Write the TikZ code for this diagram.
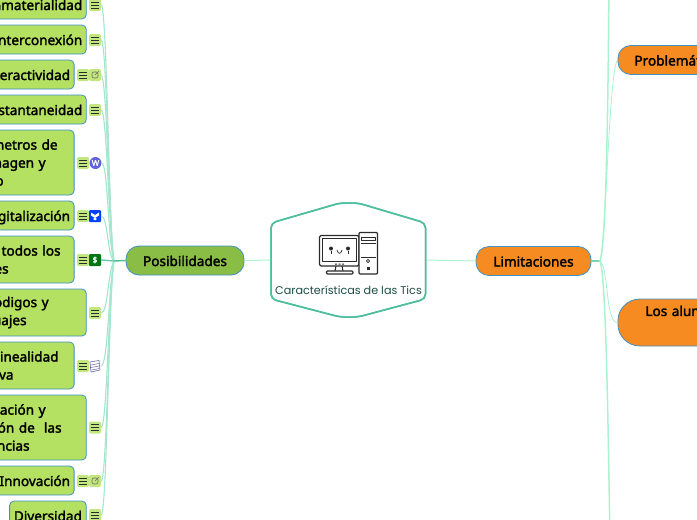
\documentclass[tikz,border=0pt]{standalone}
\usepackage{fontspec}
\setmainfont{Noto Sans}[AutoFakeBold=2]
\newfontfamily\titlefont{Poppins}
\newcommand\gapline[2]{\leavevmode\hbox{#2\kern#1pt}}
\definecolor{leafgreen}{HTML}{B4E161}
\definecolor{midgreen}{HTML}{8ABD45}
\definecolor{boxblue}{HTML}{3E90C8}
\definecolor{orangefill}{HTML}{F68B21}
\definecolor{iconback}{HTML}{C3E77F}
\definecolor{tealline}{HTML}{4CBE9E}
\definecolor{mint}{HTML}{A9F3CF}
\definecolor{leftmint}{HTML}{A5E6CC}
\definecolor{darkteal}{HTML}{1D4F47}
\definecolor{iconink}{HTML}{2B2B2B}
\tikzset{
 basebox/.style={draw=boxblue,line width=.8pt,font=\bfseries\fontsize{13.6}{18}\selectfont,text=black},
 leaf/.style={basebox,fill=leafgreen,rounded corners=4.5pt,anchor=east,text width=190pt,align=right,inner xsep=4pt,inner ysep=0pt},
 single/.style={minimum height=29pt,text height=14pt,text depth=3pt},
 menuicon/.style={fill=iconback,rounded corners=2pt,minimum size=12pt,inner sep=0pt,
  path picture={\draw[iconink,line width=.8pt]
   ([shift={(-4pt,-3pt)}]path picture bounding box.center) -- ++(8pt,0)
   ([shift={(-4pt,0pt)}]path picture bounding box.center) -- ++(8pt,0)
   ([shift={(-4pt,3pt)}]path picture bounding box.center) -- ++(8pt,0);}},
 linkicon/.style={fill=iconback,rounded corners=2pt,minimum size=12pt,inner sep=0pt,
  path picture={\draw[iconink!70,line width=.6pt]
   ([shift={(-3pt,-3pt)}]path picture bounding box.center) rectangle ++(6pt,6pt);
   \draw[iconink!70,line width=.6pt] (path picture bounding box.center) -- ++(4pt,4pt);}},
 branch/.style={draw=leftmint,line width=1.1pt},
 rbranch/.style={draw=mint,line width=1.5pt},
}
\begin{document}
\begin{tikzpicture}[x=1pt,y=-1pt]
\useasboundingbox (0,0) rectangle (697,520);
\clip (0,0) rectangle (697,520);
% hubs
\coordinate (hubL) at (114,261);
\coordinate (hubR) at (600,261);
\coordinate (topR) at (609,-20);
\coordinate (botR) at (610,540);
% leaf boxes
\node[leaf,single] (b1) at (86.7,4.5) {Inmaterialidad};
\node[leaf,single] (b2) at (86.7,39.5) {Interconexión};
\node[leaf,single] (b3) at (74.5,74.5) {Interactividad};
\node[leaf,single] (b4) at (86.7,109.5) {Instantaneidad};
\node[leaf,minimum height=65pt] (b5) at (74.5,162.5) {\gapline{12.5}{Parámetros de}\\\gapline{24.5}{la imagen y}\\\gapline{66.5}{sonido}};
\node[leaf,single] (b6) at (74.5,215.5) {Digitalización};
\node[leaf,minimum height=47pt] (b7) at (74.5,259.5) {\gapline{9.5}{A todos los}\\\gapline{61.5}{sectores}};
\node[leaf,minimum height=47pt] (b8) at (86.7,312.5) {\gapline{33.7}{Códigos y}\\\gapline{55.7}{lenguajes}};
\node[leaf,minimum height=47pt] (b9) at (74.5,365.5) {\gapline{11.5}{No linealidad}\\\gapline{56.5}{interactiva}};
\node[leaf,minimum height=65pt] (b10) at (86.7,427.5) {\gapline{36.7}{Elaboración y}\\\gapline{20.7}{manipulación de\ \ las}\\\gapline{52.7}{audiencias}};
\node[leaf,single] (b11) at (74.5,480.5) {Innovación};
\node[leaf,single,text width=68.7pt,align=center] (b12) at (86.7,515.5) {Diversidad};
% icons
\node[menuicon] (m1) at (95,5) {};
\node[menuicon] (m2) at (95,40) {};
\node[menuicon] (m3) at (83,75) {};
\node[linkicon] (e3) at (95,75) {};
\node[menuicon] (m4) at (95,110) {};
\node[menuicon] (m5) at (83,163) {};
\node[circle,fill=blue!55!white!85!black,minimum size=12pt,inner sep=0pt,text=white,font=\bfseries\fontsize{8}{8}\selectfont] (e5) at (95.5,163) {W};
\node[menuicon] (m6) at (83,216) {};
\node[fill=blue!75!cyan,minimum size=12pt,inner sep=0pt,rounded corners=1pt] (e6) at (95,216) {};
\fill[white] (91,212.5) -- (95,215) -- (99,212.5) -- (99,215.5) -- (95,218) -- (91,215.5) -- cycle;
\fill[white] (93,219) -- (95,217.8) -- (97,219) -- (95,220.3) -- cycle;
\node[menuicon] (m7) at (83,260) {};
\node[fill=green!45!black!85!teal,minimum size=12pt,inner sep=0pt,rounded corners=1pt,text=white,font=\bfseries\fontsize{8}{8}\selectfont] (e7) at (95,260) {\$};
\node[menuicon] (m8) at (95,313) {};
\node[menuicon] (m9) at (83,366) {};
\node[minimum size=12pt,inner sep=0pt] (e9) at (95,366) {};
\draw[blue!35!black!60,line width=.6pt,fill=white] (90,362) -- (99,360.5) -- (100,370) -- (91,372) -- cycle;
\draw[blue!35!black!60,line width=.5pt] (91,365) -- (99,363.5) (91,367.5) -- (99,366) (91.5,370) -- (99.5,368.5);
\node[menuicon] (m10) at (95,427.5) {};
\node[menuicon] (m11) at (83,481) {};
\node[linkicon] (e11) at (95,481) {};
\node[menuicon] (m12) at (95,515) {};
% left connectors
\draw[branch] (m1.east) .. controls (107,5) and (109,235) .. (hubL);
\draw[branch] (m2.east) .. controls (107,40) and (109,235) .. (hubL);
\draw[branch] (e3.east) .. controls (107,75) and (109,235) .. (hubL);
\draw[branch] (m4.east) .. controls (107,110) and (109,240) .. (hubL);
\draw[branch] (e5.east) .. controls (108,163) and (108,245) .. (hubL);
\draw[branch] (e6.east) .. controls (108,216) and (107,255) .. (hubL);
\draw[branch] (e7.east) -- (hubL);
\draw[branch] (m8.east) .. controls (108,313) and (108,270) .. (hubL);
\draw[branch] (e9.east) .. controls (108,366) and (109,280) .. (hubL);
\draw[branch] (m10.east) .. controls (107,427.5) and (109,285) .. (hubL);
\draw[branch] (e11.east) .. controls (107,481) and (109,285) .. (hubL);
\draw[branch] (m12.east) .. controls (107,515) and (109,285) .. (hubL);
% main nodes
\node[basebox,fill=midgreen,rounded corners=13pt,minimum width=118pt,single,inner sep=0pt] (pos) at (185,260.5) {Posibilidades};
\node[basebox,fill=orangefill,rounded corners=13pt,minimum width=115pt,single,inner sep=0pt] (lim) at (533.5,261) {Limitaciones};
\node[basebox,fill=orangefill,rounded corners=13pt,anchor=west,single,inner ysep=0pt,inner xsep=16.5pt,align=left,text width=123pt] (prob) at (617.5,60) {Problemáticas};
\node[basebox,fill=orangefill,rounded corners=22pt,anchor=west,minimum height=47pt,inner ysep=0pt,inner xsep=27.5pt,align=left,text width=112pt] (alum) at (617.5,322.5) {Los alumnos\\\strut};
\draw[draw=tealline,line width=1.4pt] (pos.west) -- (hubL);
\draw[draw=tealline!80!mint,line width=1.2pt] (e7.east) -- (hubL);
% right connectors
\draw[draw=tealline!55!mint,line width=1.4pt] (lim.east) -- (hubR);
\draw[rbranch] (hubR) .. controls (606,245) and (608,120) .. (topR);
\draw[rbranch] (hubR) .. controls (606,275) and (608,420) .. (botR);
\draw[rbranch,line width=.8pt] (hubR) .. controls (606,240) and (609,70) .. (prob.west);
\draw[rbranch,line width=.8pt] (hubR) .. controls (609,268) and (605,322) .. (alum.west);
% central node
\node[draw=none,minimum width=154pt,minimum height=114pt,inner sep=0pt] (center) at (348.5,260) {};
\draw[tealline,line width=1.5pt,fill=white,rounded corners=5pt]
 (340,203) -- (358,203) -- (425.5,223) -- (425.5,299) -- (358,317) -- (340,317) -- (271,299) -- (271,223) -- cycle;
\draw[mint,line width=1pt] (pos.east) -- (center.west);
\draw[mint,line width=1pt] (center.east) -- (lim.west);
\draw[tealline,line width=1.5pt,rounded corners=5pt]
 (340,203) -- (358,203) -- (425.5,223) -- (425.5,299) -- (358,317) -- (340,317) -- (271,299) -- (271,223) -- cycle;
% computer icon
\begin{scope}[iconink,line width=1pt,line join=round]
\draw[rounded corners=1.5pt,line width=1.1pt] (319.5,235.5) rectangle (359,266);
\draw[line width=.7pt] (322,238) rectangle (356.5,261.5);
\draw (336,266) -- (335,271) (342,266) -- (343,271);
\draw[rounded corners=1pt,line width=1.1pt] (326.5,271) rectangle (353,274);
\draw[rounded corners=1pt,line width=1.1pt,fill=white] (359,232.5) rectangle (377.5,274);
\draw (361,237) rectangle (375.5,240.5);
\draw[line width=.6pt] (361,243) -- (375.5,243) (361,257) -- (375.5,257);
\draw[line width=.7pt] (368,261) circle (1.6pt);
\fill (366.5,266.5) rectangle (369.5,269.5);
\fill (331,248.5) circle (2pt) (348,248.5) circle (2pt);
\draw[line width=.6pt] (331,250.5) -- (331,253.5) (348,250.5) -- (348,253.5);
\draw[line width=.7pt] (337,250) .. controls (338,254.5) and (341,254.5) .. (342,250);
\fill (335,263.5) rectangle (337,264.5) (338.5,263.5) rectangle (340.5,264.5) (342,263.5) rectangle (344,264.5);
\end{scope}
\node[font=\titlefont\fontsize{11.2}{12}\selectfont,text=darkteal,inner sep=0pt] (title) at (348.5,290) {Características de las Tics};
\end{tikzpicture}
\end{document}
